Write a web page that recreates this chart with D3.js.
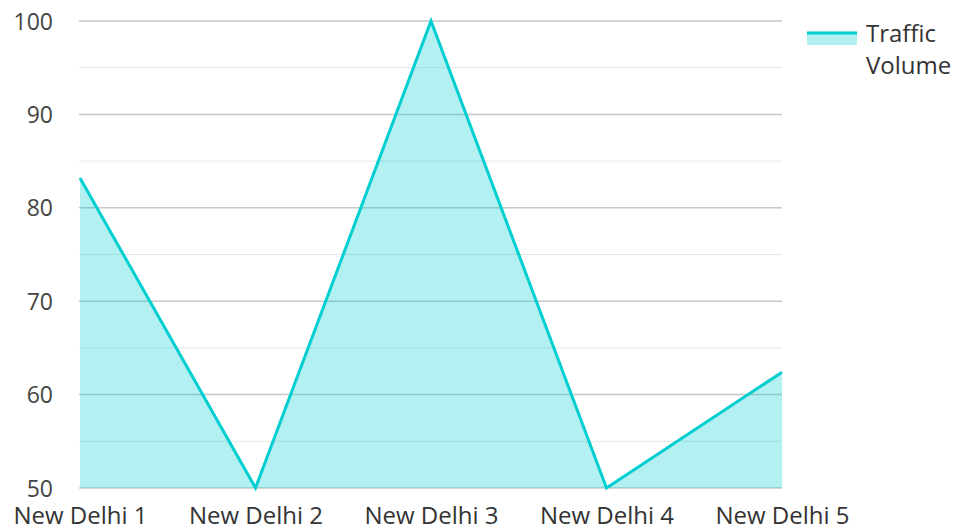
<!DOCTYPE html>
<html>
<head>
<meta charset="utf-8">
<script src="https://cdn.jsdelivr.net/npm/d3@7"></script>
<style>
	body { margin: 0; background: #fff; }
	text { font-family: "Open Sans", "Noto Sans", sans-serif; }
</style>
</head>
<body>
<svg id="chart" width="958" height="529"></svg>
<script>
const categories = ["New Delhi 1", "New Delhi 2", "New Delhi 3", "New Delhi 4", "New Delhi 5"];
const trafficVolume = [83.2, 50, 100, 50, 62.4];
const yTicks = [50, 60, 70, 80, 90, 100];
const seriesName = ["Traffic", "Volume"];

const svg = d3.select("#chart");
const plotLeft = 80, plotRight = 782, plotTop = 21, plotBottom = 488;
const lineColor = "#00ced1";

const x = d3.scalePoint().domain(categories).range([plotLeft, plotRight]);
const y = d3.scaleLinear().domain([50, 100]).range([plotBottom, plotTop]);

// minor grid
svg.append("g")
	.selectAll("line")
	.data(d3.range(55, 100, 10))
	.enter()
	.append("line")
	.attr("x1", plotLeft - 1).attr("x2", plotRight)
	.attr("y1", d => y(d)).attr("y2", d => y(d))
	.attr("stroke", "#e6e6e6").attr("stroke-width", 1);

// major grid
svg.append("g")
	.selectAll("line")
	.data(yTicks)
	.enter()
	.append("line")
	.attr("x1", plotLeft - 1).attr("x2", plotRight)
	.attr("y1", d => y(d)).attr("y2", d => y(d))
	.attr("stroke", "#c8c8c8").attr("stroke-width", 1.5);

const data = categories.map((c, i) => ({ c: c, v: trafficVolume[i] }));

svg.append("path")
	.datum(data)
	.attr("d", d3.area().x(d => x(d.c)).y0(y(50)).y1(d => y(d.v)))
	.attr("fill", lineColor)
	.attr("fill-opacity", 0.3);

svg.append("path")
	.datum(data)
	.attr("d", d3.line().x(d => x(d.c)).y(d => y(d.v)))
	.attr("fill", "none")
	.attr("stroke", lineColor)
	.attr("stroke-width", 3)
	.attr("stroke-linejoin", "miter");

// y labels
const yAxis = d3.axisLeft(y).tickValues(yTicks).tickSize(0).tickPadding(0);
const yg = svg.append("g").attr("transform", "translate(53,0)").call(yAxis);
yg.select(".domain").remove();
yg.selectAll("text")
	.attr("font-size", 23)
	.attr("font-family", "'Open Sans', 'Noto Sans', sans-serif")
	.attr("fill", "#444")
	.attr("dy", "0.35em");

// x labels
const xAxis = d3.axisBottom(x).tickSize(0).tickPadding(0);
const xg = svg.append("g").attr("transform", "translate(0,524)").call(xAxis);
xg.select(".domain").remove();
xg.selectAll("text")
	.attr("font-size", 24)
	.attr("font-family", "'Open Sans', 'Noto Sans', sans-serif")
	.attr("fill", "#333")
	.attr("dy", "0");

// legend
const lg = svg.append("g");
lg.append("rect").attr("x", 807).attr("y", 32).attr("width", 50).attr("height", 13)
	.attr("fill", lineColor).attr("fill-opacity", 0.3);
lg.append("line").attr("x1", 807).attr("x2", 857).attr("y1", 33).attr("y2", 33)
	.attr("stroke", lineColor).attr("stroke-width", 3);
lg.selectAll("text")
	.data(seriesName)
	.enter()
	.append("text")
	.attr("x", 866)
	.attr("y", (d, i) => 42 + i * 32)
	.attr("font-size", 24)
	.attr("fill", "#333")
	.text(d => d);
</script>
</body>
</html>
